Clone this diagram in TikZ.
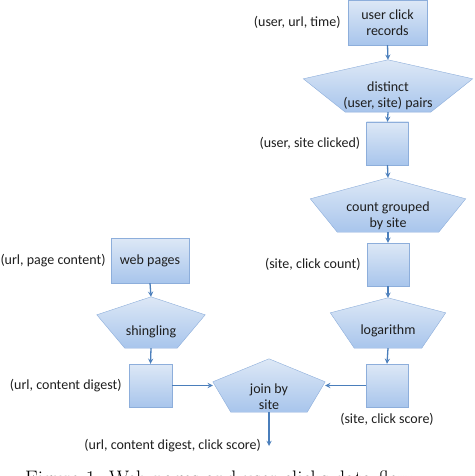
\documentclass[tikz,border=0pt]{standalone}
\usepackage{fontspec}
\setsansfont{Carlito}
\usetikzlibrary{positioning,backgrounds}
\definecolor{boxtop}{HTML}{DDE8F6}
\definecolor{boxbot}{HTML}{A8C5EC}
\definecolor{boxedge}{HTML}{8DAEDB}
\definecolor{flow}{HTML}{4A7EBB}
\definecolor{ink}{HTML}{1E1E1E}
\tikzset{
  data/.style={draw=boxedge, top color=boxtop, bottom color=boxbot, align=center, inner sep=0pt},
  stage/.style={align=center, inner sep=0pt},
  tag/.style={inner sep=0pt},
  link/.style={->, draw=flow, line width=1.3pt}
}
\begin{document}
\begin{tikzpicture}[x=1pt, y=-1pt, font=\sffamily\fontsize{14}{16}\selectfont, text=ink, >=stealth]
\useasboundingbox (0,0) rectangle (474,476);
% boxes
\node (rec) [data, minimum width=79pt, minimum height=45pt] at (387.5,22.5) {user click\\records};
\node (sq1) [data, minimum width=42pt, minimum height=43pt] at (387.5,143.5) {};
\node (sq2) [data, minimum width=42pt, minimum height=43pt] at (388,264.5) {};
\node (sq3) [data, minimum width=42pt, minimum height=43pt] at (387,385.5) {};
\node (web) [data, minimum width=78pt, minimum height=45pt] at (150,260.5) {web pages};
\node (sq4) [data, minimum width=43pt, minimum height=43pt] at (150.5,385.5) {};
% stages
\node (dist) [stage, minimum width=169pt, minimum height=33pt] at (388,95.5) {distinct\\(user, site) pairs};
\node (cnt) [stage, minimum width=155pt, minimum height=33pt] at (388,215.5) {count grouped\\by site};
\node (log) [stage, minimum width=115pt, minimum height=35pt] at (388,330.5) {logarithm};
\node (shing) [stage, minimum width=108pt, minimum height=33pt] at (151,331.5) {shingling};
\node (join) [stage, minimum width=112pt, minimum height=30pt] at (269,397) {join by\\site};
\begin{scope}[on background layer]
\foreach \n/\p/\b in {dist/19/42, cnt/21/27, log/15/24, shing/18/28, join/23/18}{
  \draw[draw=boxedge, top color=boxtop, bottom color=boxbot]
    (\n.north west) -- ([yshift=\p pt]\n.north) -- (\n.north east)
    -- ([xshift=-\b pt]\n.south east) -- ([xshift=\b pt]\n.south west) -- cycle;
  \coordinate (\n-top) at ([yshift=\p pt]\n.north);
}
\end{scope}
% labels
\node (t1) [tag, left=7pt of rec] {(user, url, time)};
\node (t2) [tag, left=6pt of sq1] {(user, site clicked)};
\node (t3) [tag, left=6pt of sq2] {(site, click count)};
\node (t4) [tag, below=6pt of sq3] {(site, click score)};
\node (t5) [tag, left=5pt of web] {(url, page content)};
\node (t6) [tag, left=7pt of sq4] {(url, content digest)};
\coordinate (out) at (269,446);
\node (t7) [tag, left=8pt of out] {(url, content digest, click score)};
% flow
\draw[link] (rec.south) -- (dist-top);
\draw[link] (dist.south) -- (sq1.north);
\draw[link] (sq1.south) -- (cnt-top);
\draw[link] (cnt.south) -- (sq2.north);
\draw[link] (sq2.south) -- (log-top);
\draw[link] (log.south) -- (sq3.north);
\draw[link] (web.south) -- (shing-top);
\draw[link] (shing.south) -- (sq4.north);
\draw[link] (sq4.east) -- (sq4.east -| join.west);
\draw[link] (sq3.west) -- (sq3.west -| join.east);
\draw[link] (join.south) -- (out);
% caption, cut by the page edge
\node (cap) [anchor=base west, inner sep=0pt, font=\rmfamily\fontsize{21}{24}\selectfont, text=black] at (25,485) {Figure 1: Web pages and user clicks data flow};
\end{tikzpicture}
\end{document}
